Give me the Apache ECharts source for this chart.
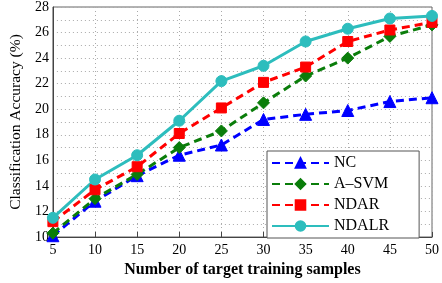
<!DOCTYPE html>
<html>
<head>
<meta charset="utf-8">
<script src="https://cdn.jsdelivr.net/npm/echarts@6/dist/echarts.min.js"></script>
<style>
html, body { margin: 0; padding: 0; background: #fff; }
#chart { width: 442px; height: 283px; }
</style>
</head>
<body>
<div id="chart"></div>
<script>
const samples = [5, 10, 15, 20, 25, 30, 35, 40, 45, 50];
const nc = [10.1, 12.8, 14.8, 16.4, 17.2, 19.2, 19.6, 19.9, 20.6, 20.9];
const asvm = [10.3, 13.0, 14.9, 17.0, 18.3, 20.5, 22.6, 24.0, 25.7, 26.6];
const ndar = [11.2, 13.7, 15.5, 18.1, 20.1, 22.1, 23.3, 25.3, 26.2, 26.8];
const ndalr = [11.5, 14.5, 16.4, 19.1, 22.2, 23.4, 25.3, 26.3, 27.1, 27.3];

const font = 'Liberation Serif, Times New Roman, serif';

function pairs(vals) {
	return samples.map((x, i) => [x, vals[i]]);
}

function makeSeries(name, vals, color, symbol, size, dashed) {
	return {
		name: name,
		type: 'line',
		data: pairs(vals),
		symbol: symbol,
		symbolSize: size,
		showAllSymbol: true,
		lineStyle: { color: color, width: 3, type: dashed ? [8, 5] : 'solid' },
		itemStyle: { color: color, borderColor: color, borderWidth: 1 },
		emphasis: { disabled: true },
	};
}

const chart = echarts.init(document.getElementById('chart'));
chart.setOption({
	animation: false,
	grid: { left: 46, right: 10, top: 7, bottom: 35, show: true, borderColor: '#666', borderWidth: 1 },
	legend: {
		orient: 'vertical',
		left: 267,
		top: 151,
		width: 149,
		padding: [4, 30, 4, 4],
		itemGap: 5,
		itemWidth: 57,
		itemHeight: 12,
		backgroundColor: '#fff',
		borderColor: '#555',
		borderWidth: 1,
		borderRadius: 0,
		textStyle: { fontFamily: font, fontSize: 16, color: '#000' },
		data: ['NC', 'A\u2013SVM', 'NDAR', 'NDALR'],
	},
	xAxis: {
		type: 'value',
		min: 5,
		max: 50,
		interval: 5,
		name: 'Number of target training samples',
		nameLocation: 'middle',
		nameGap: 25,
		nameTextStyle: { fontFamily: font, fontSize: 16, fontWeight: 'bold', color: '#000' },
		axisLine: { lineStyle: { color: '#444' } },
		axisTick: { inside: true, lineStyle: { color: '#444' } },
		axisLabel: { fontFamily: font, fontSize: 14, color: '#000', margin: 6 },
		splitLine: { show: true, lineStyle: { color: '#aaa', type: [1, 3] } },
	},
	yAxis: {
		type: 'value',
		min: 10,
		max: 28,
		interval: 1,
		name: 'Classification Accuracy (%)',
		nameLocation: 'middle',
		nameGap: 28,
		nameTextStyle: { fontFamily: font, fontSize: 15.5, color: '#000' },
		axisLine: { show: true, lineStyle: { color: '#444' } },
		axisTick: { show: false },
		axisLabel: {
			fontFamily: font, fontSize: 14, color: '#000', margin: 4,
			formatter: (v) => (v % 2 === 0 ? String(v) : ''),
		},
		splitLine: { show: true, lineStyle: { color: '#aaa', type: [1, 3] } },
	},
	series: [
		makeSeries('NC', nc, '#0000ff', 'triangle', 12, true),
		makeSeries('A\u2013SVM', asvm, '#0a7d0a', 'diamond', 12, true),
		makeSeries('NDAR', ndar, '#ff0000', 'rect', 10, true),
		makeSeries('NDALR', ndalr, '#2dbdbd', 'circle', 11, false),
	],
});
</script>
</body>
</html>
